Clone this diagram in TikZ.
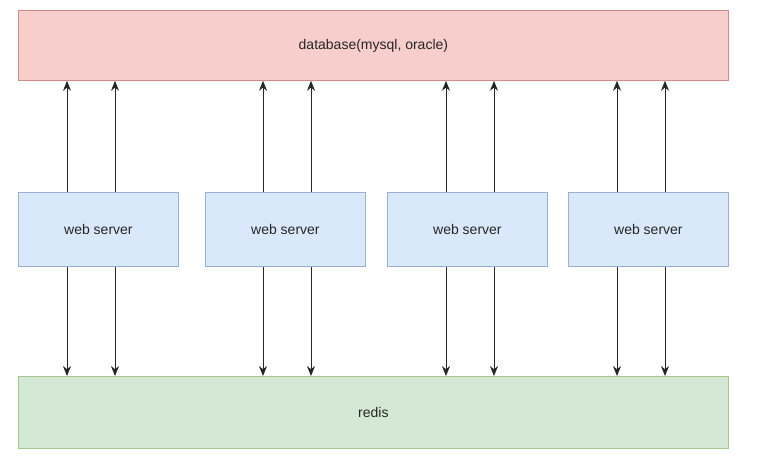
\documentclass[tikz,border=0pt]{standalone}
\usepackage{fontspec}
\setmainfont{Liberation Sans}
\usetikzlibrary{arrows.meta}
\definecolor{dbf}{HTML}{F8CECC}\definecolor{dbd}{HTML}{D08C88}
\definecolor{wf}{HTML}{DAE8FC}\definecolor{wd}{HTML}{98B0D4}
\definecolor{rf}{HTML}{D5E8D4}\definecolor{rd}{HTML}{A4C98E}
\begin{document}
\begin{tikzpicture}[x=1pt,y=-1pt,
 box/.style={draw,line width=0.8pt,anchor=north west,inner sep=0pt,font=\fontsize{14}{16}\selectfont,text=black!85},
 web/.style={box,fill=wf,draw=wd,minimum width=160pt,minimum height=74pt},
 arr/.style={-{Stealth[length=10pt,width=8pt]},line width=1pt,draw=black!85}]
\useasboundingbox (0,0) rectangle (768,460);
\node[box,fill=dbf,draw=dbd,minimum width=710pt,minimum height=70pt] (db) at (18,10) {database(mysql, oracle)};
\node[box,fill=rf,draw=rd,minimum width=710pt,minimum height=72pt] (rd) at (18,376) {redis};
\node[web] (w1) at (18,192) {web server};
\node[web] (w2) at (205,192) {web server};
\node[web] (w3) at (387,192) {web server};
\node[web] (w4) at (568,192) {web server};
\foreach \w/\a/\b in {w1/67/115,w2/263/311,w3/446/494,w4/617/665}{
 \foreach \x in {\a,\b}{
  \draw[arr] (\w.north -| \x,0) -- (db.south -| \x,0);
  \draw[arr] (\w.south -| \x,0) -- (rd.north -| \x,0);
 }}
\end{tikzpicture}
\end{document}
